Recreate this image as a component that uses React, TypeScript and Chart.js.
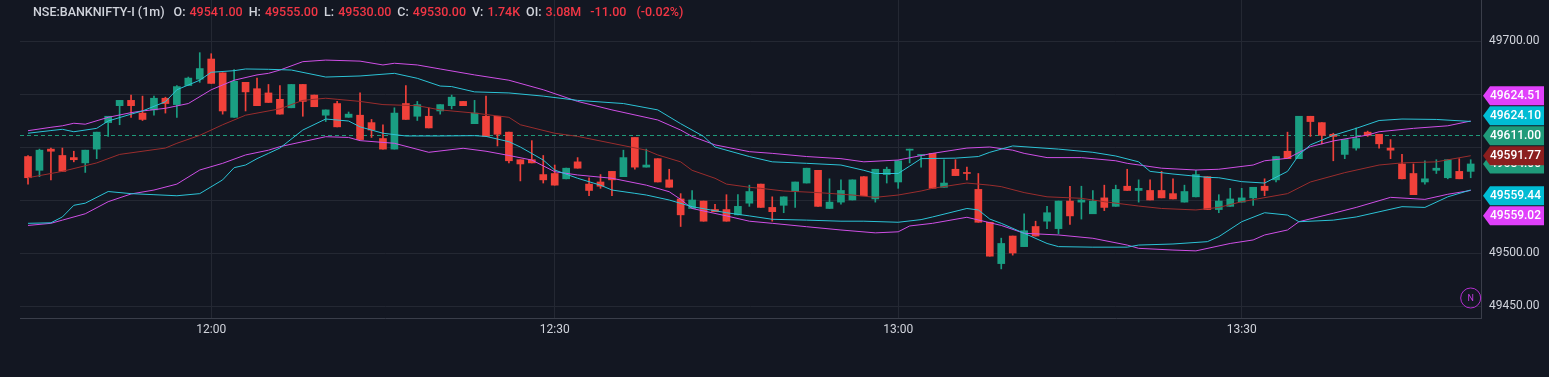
import React, { useEffect, useRef } from "react";
import { Chart, registerables } from "chart.js";
Chart.register(...registerables);

// ---------- header text ----------
const SYMBOL = "NSE:BANKNIFTY-I (1m)";
const OHLC_LABELS = ["O:", "H:", "L:", "C:", "V:", "OI:"];
const OHLC_VALUES = ["49541.00", "49555.00", "49530.00", "49530.00", "1.74K", "3.08M"];
const CHANGE = "-11.00";
const CHANGE_PCT = "(-0.02%)";

// ---------- candles (1 minute, starting 11:44) ----------
const START_MINUTE = 11 * 60 + 44;
const opens = [
  49591, 49578, 49598, 49592, 49590, 49585, 49598, 49623, 49639, 49644,
  49632, 49635, 49646, 49640, 49658, 49664, 49683, 49670, 49628, 49661,
  49655, 49651, 49645, 49637, 49659, 49649, 49630, 49641, 49628, 49630,
  49623, 49608, 49598, 49641, 49629, 49629, 49634, 49639, 49643, 49622,
  49629, 49629, 49614, 49588, 49588, 49574, 49575, 49570, 49586, 49565,
  49567, 49577, 49572, 49609, 49581, 49589, 49569, 49551, 49542, 49549,
  49541, 49541, 49536, 49547, 49565, 49543, 49545, 49558, 49566, 49578,
  49542, 49548, 49550, 49572, 49551, 49574, 49567, 49597, 49592, 49594,
  49562, 49579, 49576, 49560, 49529, 49490, 49516, 49506, 49525, 49530,
  49523, 49549, 49548, 49537, 49552, 49544, 49563, 49559, 49559, 49559,
  49556, 49548, 49553, 49572, 49541, 49544, 49548, 49552, 49563, 49569,
  49596, 49589, 49629, 49623, 49612, 49593, 49599, 49614, 49612, 49599,
  49584, 49575, 49567, 49578, 49571, 49577, 49577,
];
const highs = [
  49592, 49598, 49599, 49599, 49596, 49597, 49614, 49629, 49644, 49649,
  49648, 49648, 49647, 49658, 49666, 49689, 49688, 49670, 49673, 49661,
  49665, 49659, 49658, 49659, 49659, 49649, 49635, 49643, 49633, 49651,
  49626, 49621, 49637, 49658, 49643, 49637, 49640, 49649, 49643, 49644,
  49648, 49629, 49614, 49588, 49606, 49592, 49583, 49580, 49590, 49571,
  49574, 49577, 49597, 49609, 49598, 49589, 49579, 49556, 49559, 49549,
  49546, 49555, 49555, 49564, 49565, 49553, 49553, 49567, 49580, 49578,
  49570, 49569, 49569, 49572, 49579, 49581, 49587, 49598, 49593, 49594,
  49588, 49588, 49581, 49575, 49529, 49514, 49516, 49537, 49530, 49544,
  49549, 49563, 49563, 49559, 49564, 49564, 49579, 49569, 49569, 49577,
  49570, 49564, 49578, 49572, 49555, 49561, 49561, 49562, 49570, 49591,
  49614, 49629, 49629, 49623, 49613, 49607, 49618, 49615, 49612, 49607,
  49593, 49584, 49587, 49588, 49588, 49589, 49588,
];
const lows = [
  49565, 49572, 49569, 49577, 49586, 49576, 49589, 49610, 49621, 49628,
  49625, 49630, 49632, 49628, 49658, 49661, 49660, 49631, 49628, 49634,
  49639, 49642, 49631, 49637, 49629, 49638, 49624, 49619, 49628, 49607,
  49609, 49598, 49598, 49626, 49625, 49618, 49631, 49636, 49639, 49622,
  49610, 49601, 49585, 49568, 49585, 49566, 49564, 49570, 49580, 49554,
  49561, 49554, 49572, 49579, 49581, 49567, 49562, 49525, 49542, 49530,
  49539, 49530, 49536, 49544, 49543, 49530, 49538, 49543, 49566, 49544,
  49542, 49546, 49550, 49554, 49548, 49566, 49561, 49585, 49581, 49561,
  49562, 49573, 49569, 49529, 49497, 49485, 49498, 49506, 49516, 49523,
  49518, 49527, 49532, 49537, 49540, 49544, 49559, 49548, 49550, 49552,
  49551, 49548, 49553, 49541, 49538, 49544, 49548, 49545, 49554, 49567,
  49589, 49589, 49610, 49603, 49587, 49589, 49597, 49610, 49599, 49589,
  49570, 49555, 49565, 49575, 49570, 49570, 49571,
];
const closes = [
  49571, 49597, 49596, 49577, 49588, 49597, 49614, 49629, 49644, 49639,
  49626, 49646, 49641, 49657, 49665, 49674, 49660, 49634, 49662, 49652,
  49639, 49642, 49631, 49659, 49643, 49638, 49635, 49619, 49631, 49607,
  49616, 49598, 49632, 49626, 49640, 49618, 49640, 49647, 49639, 49632,
  49610, 49612, 49587, 49584, 49585, 49569, 49564, 49580, 49580, 49559,
  49563, 49569, 49590, 49581, 49583, 49567, 49562, 49536, 49550, 49530,
  49539, 49530, 49544, 49558, 49543, 49539, 49553, 49567, 49580, 49544,
  49548, 49559, 49569, 49554, 49579, 49579, 49587, 49598, 49593, 49561,
  49566, 49573, 49575, 49529, 49497, 49509, 49500, 49521, 49516, 49538,
  49549, 49535, 49550, 49549, 49543, 49560, 49559, 49561, 49550, 49552,
  49551, 49558, 49574, 49541, 49549, 49551, 49552, 49562, 49559, 49591,
  49589, 49629, 49624, 49611, 49610, 49607, 49608, 49611, 49603, 49597,
  49570, 49555, 49570, 49580, 49588, 49570, 49584,
];

// ---------- indicator lines, read at visible vertices ----------
const middleBand: [string, number][] = [
  ["11:44", 49571], ["11:47", 49577], ["11:50", 49585], ["11:52", 49593], ["11:56", 49599],
  ["11:57", 49603.5], ["11:59", 49611], ["12:01", 49621], ["12:03", 49630], ["12:06", 49636],
  ["12:08", 49644], ["12:10", 49646], ["12:11", 49645], ["12:13", 49643], ["12:15", 49640],
  ["12:18", 49639], ["12:20", 49635], ["12:23", 49632], ["12:26", 49628], ["12:27", 49621],
  ["12:30", 49613], ["12:32", 49610], ["12:35", 49603.5], ["12:38", 49597], ["12:39", 49592.5],
  ["12:41", 49586], ["12:42", 49578], ["12:44", 49570.5], ["12:45", 49565], ["12:47", 49562],
  ["12:48", 49561], ["12:50", 49558.5], ["12:53", 49557], ["12:56", 49554.7], ["12:58", 49552.5],
  ["13:00", 49554.7], ["13:02", 49558.5], ["13:03", 49561], ["13:06", 49566], ["13:08", 49564],
  ["13:09", 49562.6], ["13:11", 49557], ["13:13", 49553], ["13:16", 49551.6], ["13:18", 49548.4],
  ["13:21", 49544.3], ["13:23", 49542], ["13:26", 49540.6], ["13:28", 49543], ["13:30", 49548.4],
  ["13:34", 49556], ["13:36", 49567], ["13:39", 49575.8], ["13:42", 49583], ["13:44", 49585],
  ["13:47", 49586], ["13:50", 49591.77],
];
const cyanUpper: [string, number][] = [
  ["11:44", 49613], ["11:46", 49615.5], ["11:47", 49616.7], ["11:48", 49614.4], ["11:50", 49617.6],
  ["11:51", 49624.5], ["11:53", 49631], ["11:54", 49634], ["11:56", 49642.7], ["11:57", 49654],
  ["11:59", 49663], ["12:00", 49670.5], ["12:02", 49672], ["12:03", 49673.6], ["12:05", 49673.3],
  ["12:07", 49672.6], ["12:10", 49666], ["12:13", 49667], ["12:16", 49669.5], ["12:18", 49664.8],
  ["12:20", 49657.5], ["12:21", 49657], ["12:23", 49652], ["12:26", 49651], ["12:29", 49648],
  ["12:32", 49644], ["12:36", 49641], ["12:39", 49635], ["12:41", 49622], ["12:43", 49610],
  ["12:44", 49600], ["12:47", 49591], ["12:49", 49586], ["12:52", 49584.6], ["12:55", 49583],
  ["12:57", 49578], ["12:58", 49575], ["13:00", 49575], ["13:01", 49582], ["13:02", 49589],
  ["13:05", 49589.5], ["13:07", 49591], ["13:08", 49595], ["13:09", 49598], ["13:10", 49601],
  ["13:14", 49598], ["13:17", 49595], ["13:19", 49591.5], ["13:21", 49586], ["13:22", 49577],
  ["13:24", 49574.5], ["13:27", 49571.4], ["13:28", 49571], ["13:30", 49567.3], ["13:32", 49566],
  ["13:34", 49577], ["13:35", 49592.5], ["13:36", 49602], ["13:38", 49611], ["13:40", 49617.6],
  ["13:42", 49625], ["13:44", 49626.4], ["13:47", 49626], ["13:50", 49624.1],
];
const cyanLower: [string, number][] = [
  ["11:44", 49528], ["11:46", 49528.5], ["11:47", 49534], ["11:48", 49545], ["11:49", 49547],
  ["11:51", 49558], ["11:53", 49556], ["11:55", 49555], ["11:57", 49554], ["11:59", 49556],
  ["12:01", 49569], ["12:02", 49580.5], ["12:03", 49583], ["12:04", 49589], ["12:05", 49594],
  ["12:06", 49599], ["12:08", 49616], ["12:10", 49626.4], ["12:12", 49624.5], ["12:13", 49619],
  ["12:15", 49613], ["12:17", 49610.4], ["12:20", 49610.4], ["12:23", 49610.7], ["12:24", 49610],
  ["12:26", 49605], ["12:27", 49600], ["12:29", 49587.7], ["12:30", 49578.3], ["12:32", 49570.5],
  ["12:34", 49564], ["12:35", 49559.4], ["12:37", 49556.3], ["12:38", 49554.7], ["12:40", 49550],
  ["12:42", 49543.7], ["12:45", 49538], ["12:47", 49535], ["12:49", 49531.8], ["12:52", 49531],
  ["12:55", 49530], ["12:57", 49530], ["13:00", 49529], ["13:02", 49531.5], ["13:03", 49534],
  ["13:06", 49542], ["13:07", 49540.6], ["13:08", 49532], ["13:09", 49528], ["13:11", 49518.6],
  ["13:13", 49509], ["13:14", 49506], ["13:17", 49505.5], ["13:20", 49505.5], ["13:21", 49507.5],
  ["13:24", 49508.5], ["13:27", 49510.7], ["13:28", 49515.4], ["13:30", 49529.5], ["13:32", 49538],
  ["13:34", 49535.8], ["13:35", 49529.5], ["13:38", 49531], ["13:40", 49534], ["13:44", 49543.7],
  ["13:46", 49543], ["13:48", 49553], ["13:50", 49559.44],
];
const magentaUpper: [string, number][] = [
  ["11:44", 49615.4], ["11:46", 49618.6], ["11:47", 49620], ["11:48", 49622.4], ["11:49", 49621.5],
  ["11:51", 49628], ["11:53", 49632.4], ["11:54", 49634], ["11:56", 49636.5], ["11:58", 49641],
  ["12:00", 49654], ["12:02", 49663], ["12:04", 49668], ["12:05", 49669.5], ["12:06", 49672.6],
  ["12:08", 49680.5], ["12:10", 49682], ["12:13", 49681], ["12:15", 49677.4], ["12:16", 49679],
  ["12:18", 49677.4], ["12:20", 49673.6], ["12:23", 49668], ["12:26", 49663], ["12:29", 49654],
  ["12:32", 49643], ["12:35", 49635], ["12:39", 49625.5], ["12:41", 49616], ["12:42", 49610],
  ["12:44", 49602], ["12:47", 49595.6], ["12:49", 49594], ["12:52", 49591], ["12:55", 49589],
  ["12:57", 49586], ["13:00", 49587.7], ["13:03", 49594], ["13:06", 49599], ["13:08", 49600],
  ["13:10", 49597], ["13:11", 49594], ["13:13", 49590], ["13:16", 49590], ["13:19", 49587],
  ["13:20", 49584.6], ["13:23", 49580], ["13:26", 49578.3], ["13:28", 49579], ["13:31", 49583],
  ["13:32", 49587], ["13:34", 49589.3], ["13:36", 49600.3], ["13:38", 49605.7], ["13:41", 49611.3],
  ["13:42", 49614.4], ["13:45", 49617.6], ["13:48", 49620], ["13:50", 49624.51],
];
const magentaLower: [string, number][] = [
  ["11:44", 49526], ["11:46", 49528], ["11:47", 49531], ["11:49", 49537], ["11:51", 49548.4],
  ["11:53", 49555.7], ["11:55", 49559.4], ["11:57", 49565], ["11:59", 49578.3], ["12:01", 49584.6],
  ["12:03", 49592.5], ["12:05", 49597], ["12:06", 49600.3], ["12:08", 49605], ["12:10", 49609.7],
  ["12:12", 49609], ["12:13", 49606], ["12:16", 49603.5], ["12:19", 49595], ["12:22", 49598.8],
  ["12:24", 49596], ["12:26", 49592], ["12:28", 49587.7], ["12:30", 49576.7], ["12:32", 49573.6],
  ["12:35", 49570.5], ["12:38", 49564], ["12:40", 49557.8], ["12:41", 49550.6], ["12:42", 49542],
  ["12:45", 49535], ["12:47", 49530], ["12:49", 49528], ["12:52", 49524.8], ["12:55", 49521.7],
  ["12:58", 49519], ["13:00", 49520], ["13:01", 49525.5], ["13:03", 49528], ["13:06", 49533.7],
  ["13:08", 49528.6], ["13:09", 49526], ["13:11", 49518.6], ["13:14", 49517], ["13:17", 49513.9],
  ["13:20", 49507.5], ["13:21", 49504.4], ["13:24", 49502.8], ["13:26", 49502], ["13:29", 49509],
  ["13:31", 49512.3], ["13:32", 49517], ["13:34", 49521.7], ["13:35", 49529.5], ["13:38", 49537.5],
  ["13:40", 49543], ["13:43", 49552.5], ["13:46", 49550.6], ["13:48", 49555.4], ["13:50", 49559.02],
];

const REFERENCE_PRICE = 49611;
const X_TICK_LABELS = ["12:00", "12:30", "13:00", "13:30"];
const Y_TICKS = [49450, 49500, 49550, 49600, 49650, 49700];
const Y_TICKS_LABELLED = [49450, 49500, 49700];

// ---------- styles ----------
const BG = "#131722";
const UP = "#1a9e82";
const DOWN = "#f0413a";
const MID_COLOR = "#9a2d2d";
const CYAN = "#2cc3d6";
const MAGENTA = "#cf4fe6";
const LABEL_CYAN = "#00bcd4";
const LABEL_MAGENTA = "#e040fb";
const LABEL_GREEN = "#1f9a7a";
const LABEL_RED = "#8b1e1e";
const GRID = "#242833";
const AXIS = "#3a3e4a";
const TEXT = "#d1d4dc";
const VALUE_RED = "#f23645";

const times = opens.map((_, i) => {
  const m = START_MINUTE + i;
  return `${Math.floor(m / 60)}:${String(m % 60).padStart(2, "0")}`;
});
const idx = (t: string) => times.indexOf(t);
const candleColors = opens.map((o, i) => (closes[i] >= o ? UP : DOWN));
const toLine = (band: [string, number][]) => band.map(([t, v]) => ({ x: idx(t), y: v }));
const last = (band: [string, number][]) => band[band.length - 1][1];

function drawPriceLabel(ctx: CanvasRenderingContext2D, x0: number, x1: number, y: number, color: string, text: string) {
  const h = 19;
  const notch = 7;
  ctx.save();
  ctx.fillStyle = color;
  ctx.beginPath();
  ctx.moveTo(x0, y);
  ctx.lineTo(x0 + notch, y - h / 2);
  ctx.lineTo(x1, y - h / 2);
  ctx.lineTo(x1, y + h / 2);
  ctx.lineTo(x0 + notch, y + h / 2);
  ctx.closePath();
  ctx.fill();
  ctx.fillStyle = "#ffffff";
  ctx.font = "500 12px Roboto";
  ctx.textBaseline = "middle";
  ctx.textAlign = "right";
  ctx.fillText(text, x1 - 3, y + 0.5);
  ctx.restore();
}

const overlayPlugin = {
  id: "overlay",
  beforeDatasetsDraw(chart: any) {
    const { ctx, chartArea, scales } = chart;
    const y = Math.round(scales.y.getPixelForValue(REFERENCE_PRICE)) + 0.5;
    ctx.save();
    ctx.strokeStyle = LABEL_GREEN;
    ctx.lineWidth = 1;
    ctx.setLineDash([4, 3]);
    ctx.beginPath();
    ctx.moveTo(chartArea.left, y);
    ctx.lineTo(chartArea.right, y);
    ctx.stroke();
    ctx.restore();
  },
  afterDraw(chart: any) {
    const { ctx, chartArea, scales, width } = chart;
    const ys = scales.y;
    const x0 = chartArea.right + 2;
    const x1 = width - 5;
    const lastClose = closes[closes.length - 1];
    const items = [
      { value: last(magentaUpper), color: LABEL_MAGENTA },
      { value: last(cyanUpper), color: LABEL_CYAN },
      { value: REFERENCE_PRICE, color: LABEL_GREEN },
      { value: last(middleBand), color: LABEL_RED },
      { value: lastClose, color: LABEL_GREEN, pinned: true },
      { value: last(cyanLower), color: LABEL_CYAN },
      { value: last(magentaLower), color: LABEL_MAGENTA },
    ].map((it: any) => ({ ...it, anchor: ys.getPixelForValue(it.value), y: 0 }));
    items.sort((a, b) => a.anchor - b.anchor);
    // stack overlapping labels around the median anchor of each cluster
    const H = 20;
    const centerOf = (list: any[]) => {
      const s = list.map((it) => it.anchor).sort((a, b) => a - b);
      const m = Math.floor((s.length - 1) / 2);
      return s.length % 2 ? s[m] : (s[m] + s[m + 1]) / 2;
    };
    let groups = items.map((it) => ({ list: [it], center: it.anchor }));
    let merged = true;
    while (merged) {
      merged = false;
      for (let i = 0; i < groups.length - 1; i++) {
        const a = groups[i];
        const b = groups[i + 1];
        if (a.center + (a.list.length * H) / 2 > b.center - (b.list.length * H) / 2) {
          const list = [...a.list, ...b.list];
          groups.splice(i, 2, { list, center: centerOf(list) });
          merged = true;
          break;
        }
      }
    }
    groups.forEach((g) =>
      g.list.forEach((it, k) => {
        it.y = g.center - (g.list.length * H) / 2 + H * (k + 0.5);
      })
    );
    const pinned = items.find((it: any) => it.pinned);
    if (pinned) drawPriceLabel(ctx, x0, x1, pinned.anchor, pinned.color, pinned.value.toFixed(2));
    items.forEach((it: any) => {
      if (!it.pinned) drawPriceLabel(ctx, x0, x1, it.y, it.color, it.value.toFixed(2));
    });

    // "N" event marker on the last bar
    const cx = scales.x.getPixelForValue(closes.length - 1);
    const cy = chartArea.bottom - 20;
    ctx.save();
    ctx.strokeStyle = "#b52fd1";
    ctx.lineWidth = 1;
    ctx.beginPath();
    ctx.arc(cx, cy, 10, 0, Math.PI * 2);
    ctx.stroke();
    ctx.fillStyle = "#c23be0";
    ctx.font = "9px Roboto";
    ctx.textAlign = "center";
    ctx.textBaseline = "middle";
    ctx.fillText("N", cx, cy + 0.5);
    ctx.restore();
  },
};

export default function App() {
  const ref = useRef<HTMLCanvasElement>(null);
  useEffect(() => {
    document.body.style.margin = "0";
    document.body.style.background = BG;
    const lineDs = (data: any[], color: string) => ({
      type: "line" as const,
      data,
      borderColor: color,
      borderWidth: 1,
      pointRadius: 0,
      tension: 0,
      order: 0,
    });
    const chart = new Chart(ref.current!, {
      type: "bar",
      data: {
        datasets: [
          {
            type: "bar",
            data: lows.map((l, i) => ({ x: i, y: [l, highs[i]] })),
            backgroundColor: candleColors,
            barThickness: 1,
            grouped: false,
            order: 2,
          } as any,
          {
            type: "bar",
            data: opens.map((o, i) => ({ x: i, y: [o, closes[i]] })),
            backgroundColor: candleColors,
            barThickness: 7,
            minBarLength: 1,
            grouped: false,
            order: 1,
          } as any,
          lineDs(toLine(middleBand), MID_COLOR),
          lineDs(toLine(cyanUpper), CYAN),
          lineDs(toLine(cyanLower), CYAN),
          lineDs(toLine(magentaUpper), MAGENTA),
          lineDs(toLine(magentaLower), MAGENTA),
        ],
      },
      options: {
        responsive: false,
        animation: false,
        events: [],
        layout: { padding: { left: 20, top: 0, right: 0, bottom: 0 } },
        plugins: { legend: { display: false }, tooltip: { enabled: false } },
        scales: {
          x: {
            type: "linear",
            min: -0.7,
            max: times.length - 0.1,
            offset: false,
            grid: { color: GRID, drawTicks: false, offset: false },
            border: { display: true, color: AXIS },
            ticks: {
              color: TEXT,
              font: { family: "Roboto", size: 12 },
              padding: 5,
              maxRotation: 0,
              autoSkip: false,
              callback: (v: any) => times[v] ?? "",
            },
            afterBuildTicks: (s: any) => {
              s.ticks = X_TICK_LABELS.map((t) => ({ value: idx(t) }));
            },
            afterFit: (s: any) => {
              s.height = 59;
              s.paddingLeft = 0;
              s.paddingRight = 0;
            },
          },
          y: {
            type: "linear",
            position: "right",
            min: 49700 - 300 + 41 / 1.06,
            max: 49700 + 41 / 1.06,
            grid: { color: GRID, drawTicks: false },
            border: { display: true, color: AXIS },
            ticks: {
              color: TEXT,
              font: { family: "Roboto", size: 12 },
              padding: 8,
              callback: (v: any) => (Y_TICKS_LABELLED.includes(v) ? Number(v).toFixed(2) : ""),
            },
            afterBuildTicks: (s: any) => {
              s.ticks = Y_TICKS.map((v) => ({ value: v }));
            },
            afterFit: (s: any) => {
              s.width = 68;
              s.paddingTop = 0;
              s.paddingBottom = 0;
            },
          },
        },
      },
      plugins: [overlayPlugin],
    } as any);
    return () => chart.destroy();
  }, []);

  return (
    <div style={{ position: "relative", width: 1549, height: 377, background: BG, overflow: "hidden" }}>
      <canvas ref={ref} width={1549} height={377} style={{ display: "block", width: 1549, height: 377 }} />
      <div
        style={{
          position: "absolute",
          left: 33,
          top: 4,
          font: "500 12.5px Roboto",
          lineHeight: "16px",
          color: TEXT,
          whiteSpace: "nowrap",
          display: "flex",
        }}
      >
        <span style={{ marginRight: 9 }}>{SYMBOL}</span>
        {OHLC_LABELS.map((l, i) => (
          <React.Fragment key={l}>
            <span>{l}</span>
            <span style={{ color: VALUE_RED, marginLeft: 4, marginRight: 6 }}>{OHLC_VALUES[i]}</span>
          </React.Fragment>
        ))}
        <span style={{ color: VALUE_RED, marginLeft: 3, marginRight: 10 }}>{CHANGE}</span>
        <span style={{ color: VALUE_RED }}>{CHANGE_PCT}</span>
      </div>
    </div>
  );
}
